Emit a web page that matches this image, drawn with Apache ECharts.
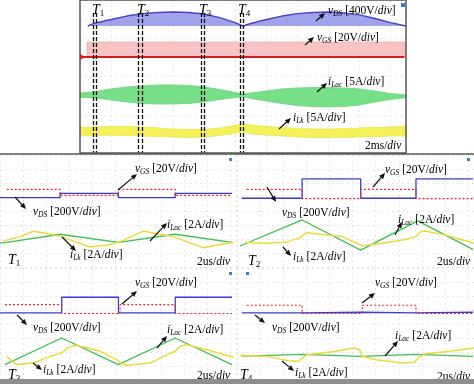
<!DOCTYPE html>
<html><head><meta charset="utf-8">
<script src="https://cdn.jsdelivr.net/npm/echarts@6/dist/echarts.min.js"></script>
<style>html,body{margin:0;padding:0;background:#fff}#c{width:474px;height:384px}</style>
</head><body><div id="c"></div>
<script>
// ================= DATA =================
// Top panel (2 ms/div). x in ms, y in screen divisions.
const topTime = [0,0.5,1,2,3,4,5,6,7,8,9,10,10.5,11,12,13,14,15,16,17,18,19,20,21];
const topVdsOffset = 2.64;
const topVdsEnvelope = [0,0,0.16,0.34,0.52,0.65,0.71,0.73,0.71,0.63,0.44,0.18,0,0.13,0.34,0.52,0.65,0.71,0.73,0.68,0.58,0.39,0.18,0];
const topVgsLow = 1.02;
const topVgsHigh = 1.80;
const topIlacTop = [-0.86,-0.84,-0.78,-0.65,-0.55,-0.50,-0.44,-0.44,-0.47,-0.55,-0.68,-0.84,-0.92,-0.86,-0.76,-0.65,-0.60,-0.58,-0.58,-0.60,-0.65,-0.76,-0.89,-0.97];
const topIlacBot = [-1.08,-1.10,-1.12,-1.23,-1.33,-1.41,-1.44,-1.44,-1.41,-1.33,-1.20,-1.10,-1.05,-1.15,-1.28,-1.41,-1.52,-1.57,-1.59,-1.57,-1.49,-1.33,-1.20,-1.10];
const topIlkTop = [-2.67,-2.66,-2.64,-2.61,-2.61,-2.64,-2.69,-2.75,-2.77,-2.77,-2.69,-2.56,-2.48,-2.54,-2.61,-2.67,-2.72,-2.75,-2.75,-2.72,-2.69,-2.67,-2.64,-2.61];
const topIlkBot = [-3.11,-3.10,-3.08,-3.06,-3.08,-3.11,-3.14,-3.16,-3.19,-3.16,-3.08,-2.95,-2.90,-2.98,-3.06,-3.11,-3.16,-3.19,-3.19,-3.19,-3.16,-3.14,-3.11,-3.11];
const cursorTimes = [[0.86,1.07],[3.78,3.99],[7.82,7.99],[10.35,10.52]];
const cursorNames = ['1','2','3','4'];

// Bottom panels (2 us/div). x in us, y in divisions.
const t1Vgs = [[0.58,1.55],[5.22,1.55],[5.22,1.11],[10.29,1.11],[10.29,1.55],[15.22,1.55],[15.22,1.11],[20.15,1.11]];
const t1Vds = [[0,0.95],[5.22,0.95],[5.22,1.26],[10.29,1.26],[10.29,0.95],[15.22,0.95],[15.22,1.26],[20.15,1.26]];
const t1Ilac = [[0,-2.3],[0.58,-2.24],[5.22,-1.66],[10.29,-2.24],[15.22,-1.66],[20.15,-2.24]];
const t1Ilk = [[0.29,-2.14],[1.74,-1.83],[2.9,-1.45],[4.06,-1.6],[5.36,-1.83],[6.67,-2.24],[7.83,-2.57],[9.28,-2.43],[10.29,-2.24],[11.59,-1.76],[12.46,-1.43],[13.62,-1.62],[15.07,-1.83],[16.38,-2.24],[17.68,-2.62],[18.84,-2.43],[20.29,-2.24]];

const t2Vgs = [[0.84,1.55],[5.63,1.55],[5.63,0.88],[10.7,0.88],[10.7,1.55],[15.48,1.55],[15.48,0.88],[20.41,0.88]];
const t2Vds = [[0.41,0.91],[5.63,0.91],[5.63,2.29],[10.7,2.29],[10.7,0.91],[15.48,0.91],[15.48,2.29],[20.41,2.29]];
const t2Ilac = [[0.26,-2.5],[5.63,-0.64],[10.7,-2.79],[15.63,-0.71],[20.41,-2.74]];
const t2Ilk = [[0.7,-2.24],[2.43,-2.31],[4.17,-2.24],[5.48,-1.9],[5.77,-1.71],[6.06,-1.55],[7.37,-1.67],[9.1,-1.83],[10.55,-2.38],[10.84,-2.48],[12.58,-2.31],[14.32,-2.07],[15.48,-1.83],[15.83,-1.52],[16.2,-1.43],[17.8,-1.67],[19.54,-2.07],[20.5,-2.31]];

const t3Vgs = [[0.43,1.38],[5.36,1.38],[5.36,0.75],[10.43,0.75],[10.43,1.38],[15.22,1.38],[15.22,0.75],[20.15,0.75]];
const t3Vds = [[0,0.79],[5.36,0.79],[5.36,1.91],[10.29,1.91],[10.29,0.79],[15.22,0.79],[15.22,1.91],[20.15,1.91]];
const t3Ilac = [[0.43,-2.9],[5.36,-1.0],[10.29,-2.9],[15.22,-1.0],[20.15,-2.9]];
const t3Ilk = [[0.58,-2.31],[1.45,-2.9],[2.9,-2.79],[4.35,-2.31],[5.36,-2.07],[5.94,-1.67],[6.67,-1.52],[8.7,-1.95],[10.14,-2.55],[10.58,-2.83],[11.01,-2.95],[13.04,-2.79],[14.2,-2.31],[15.22,-1.95],[15.65,-1.59],[16.23,-1.48],[17.97,-1.84],[20.29,-2.38]];

const t4Vgs = [[0.84,1.34],[5.63,1.34],[5.63,0.75],[10.84,0.75],[10.84,1.34],[15.48,1.34],[15.48,0.75],[20.41,0.75]];
const t4Vds = [[0.41,0.79],[5.63,0.79],[5.63,0.84],[10.7,0.84],[10.7,0.79],[15.48,0.79],[15.48,0.84],[20.41,0.84]];
const t4Ilac = [[0.41,-2.29],[5.63,-2.17],[10.7,-2.31],[15.48,-2.17],[20.41,-2.31]];
const t4Ilk = [[0.26,-2.24],[2.72,-2.33],[4.46,-2.62],[5.33,-2.66],[5.63,-2.43],[6.06,-2.19],[8.52,-1.95],[10.11,-1.71],[10.6,-1.84],[10.84,-2.31],[12.0,-2.55],[14.32,-2.79],[15.33,-2.74],[15.77,-2.38],[16.2,-2.14],[18.37,-1.95],[20.5,-1.71]];

const panelNames = ['1','2','3','4'];
const panelData = [[t1Vgs,t1Vds,t1Ilac,t1Ilk],[t2Vgs,t2Vds,t2Ilac,t2Ilk],[t3Vgs,t3Vds,t3Ilac,t3Ilk],[t4Vgs,t4Vds,t4Ilac,t4Ilk]];

// ================= STYLE / LAYOUT =================
const FONT = 'Liberation Serif';
const BLUE = '#3b3bd0', RED = '#dc2b2b', GREEN = '#3fbf50', YELLOW = '#e8dc38';
const grids = [
  {left:80, top:0, width:326, height:153},
  {left:0, top:155, width:236, height:112},
  {left:237, top:155, width:237, height:112},
  {left:0, top:268, width:236, height:112},
  {left:237, top:268, width:237, height:112}
];
const split = {show:true, lineStyle:{color:'#e6e6e6', width:1, type:[2,3]}};
const xAxes = grids.map((g,i)=>({gridIndex:i, type:'value', min:0, max: i===0?21:20.5, interval:2,
  axisLine:{show:false}, axisTick:{show:false}, axisLabel:{show:false}, splitLine:split}));
const yAxes = grids.map((g,i)=>({gridIndex:i, type:'value', min:-4, max:4, interval:1,
  axisLine:{show:false}, axisTick:{show:false}, axisLabel:{show:false}, splitLine:split}));

function band(rows, fill, stroke){
  return {type:'custom', xAxisIndex:0, yAxisIndex:0, silent:true, z:2,
    data: rows, encode:{x:0, y:[1,2]},
    renderItem: function(params, api){
      if (params.dataIndex !== 0) return;
      const up = rows.map(r=>api.coord([r[0], r[1]]));
      const dn = rows.map(r=>api.coord([r[0], r[2]])).reverse();
      return {type:'polygon', shape:{points: up.concat(dn)}, style:{fill:fill, stroke:stroke, lineWidth:0.8}};
    }};
}
const series = [];
const vdsRows = topTime.map((t,i)=>[t, topVdsOffset + topVdsEnvelope[i], topVdsOffset]);
series.push(band(vdsRows.slice(1), '#a0a3ea', null));
series.push({type:'line', xAxisIndex:0, yAxisIndex:0, symbol:'none', z:3,
  data: vdsRows.slice(1).map(r=>[r[0], r[1]]), lineStyle:{color:'#4545c6', width:1.4}});
series.push(band([[0.45, topVgsHigh, topVgsLow],[20.9, topVgsHigh, topVgsLow]], '#f7c3c3', '#f0a8a8'));
series.push({type:'line', xAxisIndex:0, yAxisIndex:0, symbol:'none', z:3,
  data: [[0, topVgsLow],[20.9, topVgsLow]], lineStyle:{color:'#d41e1e', width:1.8}});
series.push(band(topTime.map((t,i)=>[t, topIlacTop[i], topIlacBot[i]]), '#76df87', '#64d476'));
series.push(band(topTime.map((t,i)=>[t, topIlkTop[i], topIlkBot[i]]), '#f3f05a', '#e9e548'));
const curLines = [];
cursorTimes.forEach(p=>p.forEach(t=>curLines.push([{coord:[t,3.32]},{coord:[t,-4]}])));
series.push({type:'line', xAxisIndex:0, yAxisIndex:0, data:[], symbol:'none',
  markLine:{silent:true, symbol:['none','none'], label:{show:false}, animation:false,
    lineStyle:{color:'#111', width:1.3, type:[4,2]}, data:curLines}});

panelData.forEach((pd,k)=>{
  const ax = k+1;
  series.push({type:'line', xAxisIndex:ax, yAxisIndex:ax, symbol:'none', data:pd[2], lineStyle:{color:GREEN, width:1.3}, z:3});
  series.push({type:'line', xAxisIndex:ax, yAxisIndex:ax, symbol:'none', data:pd[3], lineStyle:{color:YELLOW, width:1.5}, z:4});
  series.push({type:'line', xAxisIndex:ax, yAxisIndex:ax, symbol:'none', data:pd[1], lineStyle:{color:BLUE, width:1.3}, z:5});
  series.push({type:'line', xAxisIndex:ax, yAxisIndex:ax, symbol:'none', data:pd[0], lineStyle:{color:RED, width:1.2, type:[2,2]}, z:6});
});

// ================= ANNOTATIONS =================
const rich = {
  i:{fontFamily:FONT, fontStyle:'italic', fontSize:11.5, lineHeight:15, color:'#111'},
  r:{fontFamily:FONT, fontSize:11.5, lineHeight:15, color:'#111'},
  s:{fontFamily:FONT, fontStyle:'italic', fontSize:7.5, lineHeight:8, verticalAlign:'bottom', color:'#111'},
  T:{fontFamily:FONT, fontStyle:'italic', fontSize:14, lineHeight:16, color:'#111'},
  ts:{fontFamily:FONT, fontSize:9, lineHeight:8, verticalAlign:'bottom', color:'#111'}
};
const g = [];
function txt(x, y, s){
  g.push({type:'text', x:x, y:y, z:100, style:{text:s, rich:rich, align:'left', verticalAlign:'middle'}});
}
function sig(x, y, sym, sub, scale){ txt(x, y, '{i|'+sym+'}{s|'+sub+'}{r| ['+scale+'/}{i|div}{r|]}'); }
function tl(x, y, n){ txt(x, y, '{T|T}{ts|'+n+'}'); }
function per(x, y, u){ txt(x, y, '{r|'+u+'/}{i|div}'); }
function arrow(x1,y1,x2,y2){
  const a = Math.atan2(y2-y1, x2-x1), L=6, W=2.6;
  const bx = x2 - L*Math.cos(a), by = y2 - L*Math.sin(a);
  g.push({type:'line', z:100, shape:{x1:x1,y1:y1,x2:bx,y2:by}, style:{stroke:'#111', lineWidth:1.2}});
  g.push({type:'polygon', z:100, shape:{points:[[x2,y2],[bx - W*Math.sin(a), by + W*Math.cos(a)],[bx + W*Math.sin(a), by - W*Math.cos(a)]]}, style:{fill:'#111'}});
}
g.push({type:'rect', z:90, shape:{x:80, y:0, width:326, height:153}, style:{fill:'none', stroke:'#555', lineWidth:1.5}});
g.push({type:'line', z:90, shape:{x1:0, y1:154, x2:474, y2:154}, style:{stroke:'#555', lineWidth:1.6}});
g.push({type:'rect', z:110, shape:{x:0, y:379, width:474, height:5}, style:{fill:'#8e8e8e'}});
g.push({type:'rect', z:95, shape:{x:401, y:3, width:4, height:4}, style:{fill:'#3a7ad8'}});
g.push({type:'polygon', z:95, shape:{points:[[80,54],[85,57],[80,60]]}, style:{fill:'#d41e1e'}});
[[229,158],[467,158],[229,272],[246,272]].forEach(p=>g.push({type:'rect', z:95, shape:{x:p[0], y:p[1], width:3, height:3}, style:{fill:'#3a7ad8'}}));

cursorNames.forEach((n,i)=>tl([92,137,199,238][i], 10, n));
sig(328, 11, 'v', 'DS', '400V'); arrow(316,21,325,13);
sig(317, 38, 'v', 'GS', '20V'); arrow(305,45,314,37);
sig(328, 82, 'i', 'Lac', '5A'); arrow(317,92,327,83);
sig(293, 118, 'i', 'Lk', '5A'); arrow(279,129,291,118);
per(365, 146, '2ms');
const P = [
  {vgs:[135,169], vgsA:[118,190,137,174], vds:[33,212], vdsA:[15,197,26,209], ilac:[167,225], ilacA:[150,241,167,223], ilk:[70,255], ilkA:[62,237,76,251], T:[8,260], d:[197,262]},
  {vgs:[385,170], vgsA:[373,187,385,173], vds:[282,213], vdsA:[267,187,276,202], ilac:[398,220], ilacA:[395,235,402,222], ilk:[293,257], ilkA:[283,247,291,256], T:[248,261], d:[437,262]},
  {vgs:[135,283], vgsA:[122,304,137,291], vds:[33,328], vdsA:[17,315,27,325], ilac:[167,330], ilacA:[157,348,167,336], ilk:[43,370], ilkA:[33,363,42,370], T:[8,375], d:[197,376]},
  {vgs:[375,283], vgsA:[362,303,375,293], vds:[272,328], vdsA:[255,315,265,323], ilac:[395,336], ilacA:[385,356,398,341], ilk:[295,373], ilkA:[282,361,294,371], T:[240,375], d:[437,377]}
];
P.forEach((p,k)=>{
  sig(p.vgs[0], p.vgs[1], 'v', 'GS', '20V'); arrow.apply(null, p.vgsA);
  sig(p.vds[0], p.vds[1], 'v', 'DS', '200V'); arrow.apply(null, p.vdsA);
  sig(p.ilac[0], p.ilac[1], 'i', 'Lac', '2A'); arrow.apply(null, p.ilacA);
  sig(p.ilk[0], p.ilk[1], 'i', 'Lk', '2A'); arrow.apply(null, p.ilkA);
  tl(p.T[0], p.T[1], panelNames[k]);
  per(p.d[0], p.d[1], '2us');
});

const chart = echarts.init(document.getElementById('c'), null, {renderer:'canvas'});
chart.setOption({animation:false, backgroundColor:'#fff', grid:grids, xAxis:xAxes, yAxis:yAxes, series:series, graphic:{elements:g}});
</script></body></html>
